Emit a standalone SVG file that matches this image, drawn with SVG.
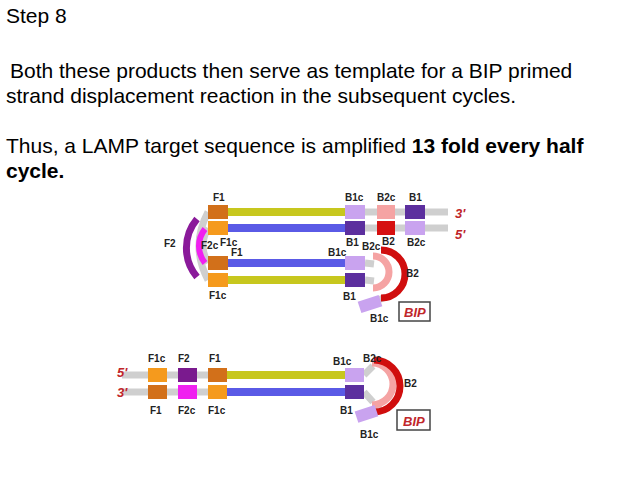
<svg xmlns="http://www.w3.org/2000/svg" width="638" height="478" viewBox="0 0 638 478">
<style>
.h{font-family:"Liberation Sans",Arial,sans-serif;font-size:21px;fill:#000}
.l{font-family:"Liberation Sans Narrow","Liberation Sans",Arial,sans-serif;font-size:10px;font-weight:bold;fill:#222}
.p{font-family:"Liberation Sans",Arial,sans-serif;font-size:13px;font-weight:bold;font-style:italic;fill:#c0262b}
.g{stroke:#cfcfcf;stroke-width:7;fill:none}
.y{fill:#c7c71e}.b{fill:#5a5ae6}
</style>
<rect width="638" height="478" fill="#fff"/>
<g id="text">
<text class="h" x="6" y="23">Step 8</text>
<text class="h" x="10" y="78">Both these products then serve as template for a BIP primed</text>
<text class="h" x="6" y="103">strand displacement reaction in the subsequent cycles.</text>
<text class="h" x="6" y="153">Thus, a LAMP target sequence is amplified <tspan font-weight="bold">13 fold every half</tspan></text>
<text class="h" x="6" y="178" font-weight="bold">cycle.</text>
</g>
<g id="connectors">
<path class="g" d="M208 212 Q190 246 208 280"/>
<path class="g" d="M208 228 Q198 246 208 263"/>
<line class="g" x1="365" y1="212" x2="448" y2="212"/>
<line class="g" x1="365" y1="228" x2="448" y2="228"/>
<path class="g" d="M365 263 L374 264 M365 280 L374 281"/>
<path class="g" d="M378 300 L386 297"/>
<line class="g" x1="122" y1="375" x2="208" y2="375"/>
<line class="g" x1="122" y1="392" x2="208" y2="392"/>
<path class="g" d="M364 375 L373 366 M364 392 L373 402 M376 410 L382 407"/>
</g>
<g id="top">
<rect class="y" x="228" y="208" width="117" height="8"/>
<rect class="b" x="228" y="224" width="117" height="8"/>
<rect class="b" x="228" y="259" width="117" height="8"/>
<rect class="y" x="228" y="276" width="117" height="8"/>
<rect x="208" y="205" width="20" height="14" fill="#d2701a"/>
<rect x="208" y="221" width="20" height="14" fill="#f59a1d"/>
<rect x="208" y="256" width="20" height="14" fill="#d2701a"/>
<rect x="208" y="273" width="20" height="14" fill="#f59a1d"/>
<rect x="345" y="205" width="20" height="14" fill="#c9a3ef"/>
<rect x="377" y="205" width="18" height="14" fill="#f5a3a3"/>
<rect x="405" y="205" width="20" height="14" fill="#5c2f9e"/>
<rect x="345" y="221" width="20" height="14" fill="#5c2f9e"/>
<rect x="377" y="221" width="18" height="14" fill="#d61010"/>
<rect x="405" y="221" width="20" height="14" fill="#c9a3ef"/>
<rect x="345" y="256" width="20" height="14" fill="#c9a3ef"/>
<rect x="345" y="273" width="20" height="14" fill="#5c2f9e"/>
<path d="M197 219 A45 45 0 0 0 197 277" stroke="#8a1a9a" stroke-width="7" fill="none"/>
<path d="M205 229 A27 27 0 0 0 205 263" stroke="#f020f0" stroke-width="6" fill="none"/>
<path d="M373 256 A16 16 0 0 1 373 288" stroke="#f5a3a3" stroke-width="7" fill="none"/>
<path d="M381 250 A24 24 0 0 1 381 298" stroke="#d00e0e" stroke-width="7" fill="none"/>
<rect x="359" y="298" width="22" height="12" fill="#c9a3ef" transform="rotate(-18 370 304)"/>
<rect x="399" y="302" width="31" height="19" fill="#fff" stroke="#444" stroke-width="1.5"/>
<text class="p" x="404" y="317">BIP</text>
<text class="l" x="213" y="201">F1</text>
<text class="l" x="345" y="201">B1c</text>
<text class="l" x="377" y="201">B2c</text>
<text class="l" x="409" y="201">B1</text>
<text class="p" x="455" y="218">3'</text>
<text class="p" x="455" y="239">5'</text>
<text class="l" x="164" y="247">F2</text>
<text class="l" x="201" y="249">F2c</text>
<text class="l" x="220" y="246">F1c</text>
<text class="l" x="231" y="256">F1</text>
<text class="l" x="346" y="246">B1</text>
<text class="l" x="328" y="256">B1c</text>
<text class="l" x="362" y="250">B2c</text>
<text class="l" x="382" y="245">B2</text>
<text class="l" x="407" y="246">B2c</text>
<text class="l" x="406" y="277">B2</text>
<text class="l" x="209" y="299">F1c</text>
<text class="l" x="343" y="300">B1</text>
<text class="l" x="370" y="322">B1c</text>
</g>
<g id="bottom">
<rect class="y" x="227" y="371" width="118" height="8"/>
<rect class="b" x="227" y="388" width="118" height="8"/>
<rect x="148" y="368" width="19" height="14" fill="#f59a1d"/>
<rect x="178" y="368" width="19" height="14" fill="#7a1a8e"/>
<rect x="208" y="368" width="19" height="14" fill="#d2701a"/>
<rect x="148" y="385" width="19" height="14" fill="#d2701a"/>
<rect x="178" y="385" width="19" height="14" fill="#f020f0"/>
<rect x="208" y="385" width="19" height="14" fill="#f59a1d"/>
<rect x="345" y="368" width="19" height="14" fill="#c9a3ef"/>
<rect x="345" y="385" width="19" height="14" fill="#5c2f9e"/>
<path d="M372 363 A21 21 0 0 1 372 405" stroke="#f5a3a3" stroke-width="7" fill="none"/>
<path d="M374 360 A26 26 0 0 1 374 412" stroke="#d00e0e" stroke-width="7" fill="none"/>
<rect x="356" y="408" width="21" height="12" fill="#c9a3ef" transform="rotate(-18 366 414)"/>
<rect x="397" y="410" width="33" height="20" fill="#fff" stroke="#444" stroke-width="1.5"/>
<text class="p" x="403" y="426">BIP</text>
<text class="l" x="148" y="362">F1c</text>
<text class="l" x="178" y="362">F2</text>
<text class="l" x="209" y="362">F1</text>
<text class="l" x="333" y="365">B1c</text>
<text class="l" x="363" y="362">B2c</text>
<text class="l" x="404" y="387">B2</text>
<text class="p" x="117" y="377">5'</text>
<text class="p" x="117" y="397">3'</text>
<text class="l" x="150" y="414">F1</text>
<text class="l" x="178" y="414">F2c</text>
<text class="l" x="208" y="414">F1c</text>
<text class="l" x="340" y="414">B1</text>
<text class="l" x="360" y="438">B1c</text>
</g>
</svg>
